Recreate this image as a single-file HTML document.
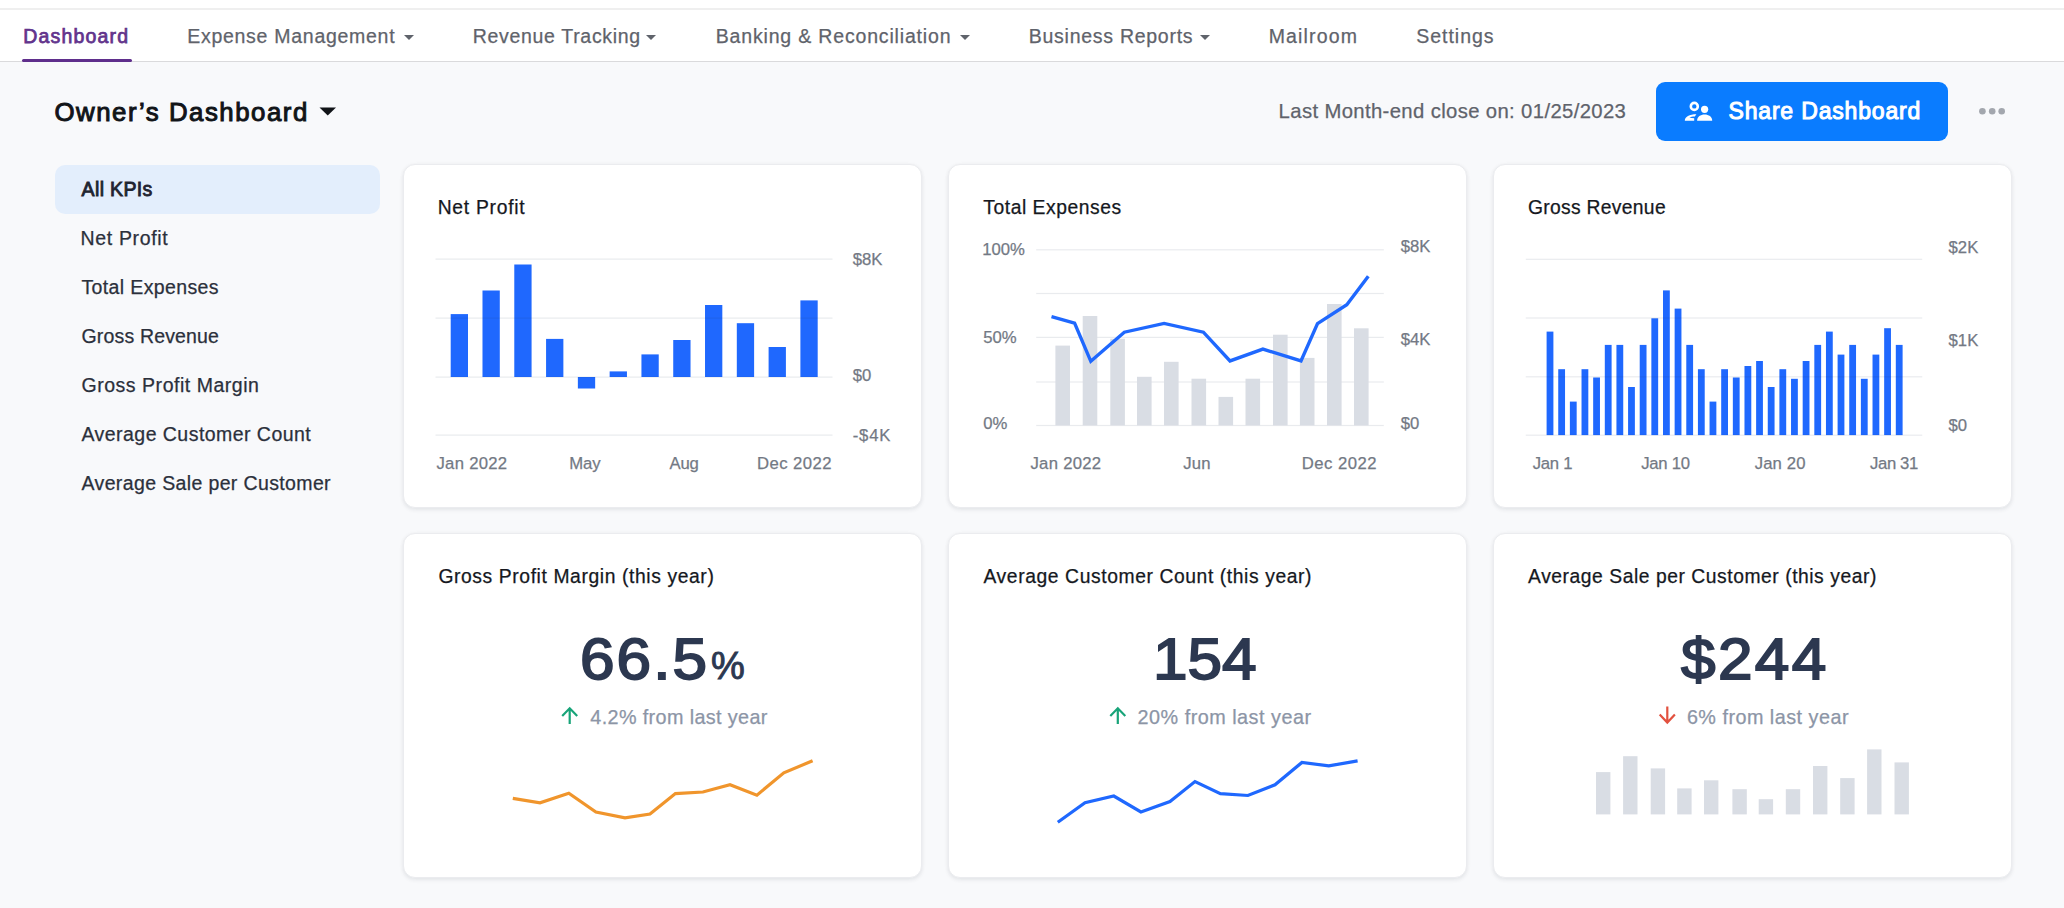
<!DOCTYPE html>
<html lang="en"><head><meta charset="utf-8"><title>Owner’s Dashboard</title>
<style>
*{margin:0;padding:0;box-sizing:border-box}
html,body{width:2064px;height:908px;overflow:hidden;background:#f8f9fb;font-family:"Liberation Sans", Arial, sans-serif}
body{position:relative}
ul{list-style:none}
a{text-decoration:none;color:inherit}
button{border:0;background:none;font:inherit;cursor:pointer}
h1,h2,p{font-weight:inherit;font-size:inherit}
.t{position:absolute;white-space:nowrap;-webkit-text-stroke:0.25px currentColor}
.med{-webkit-text-stroke:0.75px currentColor}
.abs{position:absolute}
.topnav{position:absolute;left:0;top:0;width:2064px;height:62px;background:#fff}
.navtopline{position:absolute;left:0;top:8px;width:2064px;height:2px;background:#efefef}
.navline{position:absolute;left:0;top:60.6px;width:2064px;height:1.7px;background:#dadadc}
.uline{position:absolute;left:22px;top:59.2px;width:110px;height:3.2px;background:#5f2e8c;border-radius:1.5px}
.caret{position:absolute;top:35px;width:0;height:0;border-left:5.5px solid transparent;border-right:5.5px solid transparent;border-top:5.5px solid #5f636b}
.pagehead{position:absolute;left:0;top:0;width:0;height:0}
.btn{position:absolute;left:1656px;top:82px;width:292px;height:58.5px;background:#0a7cff;border-radius:9px}
.more{position:absolute;left:1975px;top:104px;width:34px;height:15px}
.more svg{display:block;fill:#a3a7ae}
.side{position:absolute;left:0;top:0;width:0;height:0}
.sel{position:absolute;left:54.8px;top:164.8px;width:325.4px;height:48.9px;background:#e3eefc;border-radius:10px}
.grid{position:absolute;left:0;top:0;width:0;height:0}
.card{position:absolute;width:522px;height:348px}
.cardbg{position:absolute;width:519px;height:344.3px;background:#fff;border:1px solid #ebecef;border-radius:12px;box-shadow:0 2px 4px rgba(20,25,40,0.075),0 0 4px rgba(20,25,40,0.03)}
.chart{position:absolute;left:0;top:0;overflow:visible}
</style></head>
<body>
<nav class="topnav" aria-label="Main">
<div class="navtopline"></div><div class="navline"></div>
<a class="tab active" href="#"><span class="t med" style="left:23.20px;top:27px;font-size:19.5px;line-height:19.5px;color:#62348c;letter-spacing:1.181px;">Dashboard</span><i class="uline"></i></a>
<a class="tab" href="#"><span class="t" style="left:187.20px;top:27px;font-size:19.5px;line-height:19.5px;color:#5f636b;letter-spacing:0.723px;">Expense Management</span><i class="caret" style="left:403.5px"></i></a>
<a class="tab" href="#"><span class="t" style="left:472.70px;top:27px;font-size:19.5px;line-height:19.5px;color:#5f636b;letter-spacing:0.688px;">Revenue Tracking</span><i class="caret" style="left:645.5px"></i></a>
<a class="tab" href="#"><span class="t" style="left:715.70px;top:27px;font-size:19.5px;line-height:19.5px;color:#5f636b;letter-spacing:0.832px;">Banking &amp; Reconciliation</span><i class="caret" style="left:959.5px"></i></a>
<a class="tab" href="#"><span class="t" style="left:1028.80px;top:27px;font-size:19.5px;line-height:19.5px;color:#5f636b;letter-spacing:0.729px;">Business Reports</span><i class="caret" style="left:1199.5px"></i></a>
<a class="tab" href="#"><span class="t" style="left:1268.70px;top:27px;font-size:19.5px;line-height:19.5px;color:#5f636b;letter-spacing:1.152px;">Mailroom</span></a>
<a class="tab" href="#"><span class="t" style="left:1416.20px;top:27px;font-size:19.5px;line-height:19.5px;color:#5f636b;letter-spacing:0.984px;">Settings</span></a>
</nav>
<header class="pagehead">
<h1 class="title"><span class="t" style="left:54.50px;top:100px;font-size:25.8px;line-height:25.8px;color:#111418;-webkit-text-stroke:1.0px #111418;letter-spacing:1.517px;">Owner’s Dashboard</span><svg class="abs" style="left:319px;top:107px" width="18" height="9" aria-hidden="true"><path d="M0.5 0.5 H17 L8.75 8.5 Z" fill="#111418"/></svg></h1>
<p class="t" style="left:1278.60px;top:101px;font-size:20.3px;line-height:20.3px;color:#5f636b;letter-spacing:0.365px;">Last Month-end close on: 01/25/2023</p>
<button class="btn" type="button">
<svg class="abs" style="left:24px;top:16px" width="36" height="28" viewBox="1680 98 36 28" aria-hidden="true">
<circle cx="1694.3" cy="106.4" r="3.5" fill="none" stroke="#fff" stroke-width="2.6"/>
<circle cx="1704.6" cy="109.3" r="3.6" fill="#fff"/>
<path d="M1697.1 120.8 C1697.1 116.6 1700.6 114.5 1704.6 114.5 C1708.7 114.5 1712.2 116.6 1712.2 120.8 Z" fill="#fff"/>
<path d="M1684.8 120.8 C1684.8 116.6 1689.4 114.2 1696.4 114.2 L1694.8 116.5 C1692.4 116.6 1690.6 116.9 1689.4 117.7 L1694.2 118.2 L1694.2 120.8 Z" fill="#fff"/>
</svg>
<span class="t" style="left:72.50px;top:18px;font-size:23px;line-height:23px;color:#ffffff;-webkit-text-stroke:1.0px #ffffff;letter-spacing:0.822px;">Share Dashboard</span>
</button>
<button class="more" type="button" aria-label="More"><svg width="34" height="15" aria-hidden="true"><circle cx="7.4" cy="7.3" r="3.3"/><circle cx="17.2" cy="7.3" r="3.3"/><circle cx="26.7" cy="7.3" r="3.3"/></svg></button>
</header>
<aside class="side"><ul>
<li class="active"><i class="sel"></i><span class="t" style="left:81.62px;top:180px;font-size:19.5px;line-height:19.5px;color:#1f2430;-webkit-text-stroke:0.85px #1f2430;letter-spacing:0.347px;">All KPIs</span></li>
<li><span class="t" style="left:80.50px;top:229px;font-size:19.5px;line-height:19.5px;color:#2b303b;letter-spacing:0.660px;">Net Profit</span></li>
<li><span class="t" style="left:81.50px;top:278px;font-size:19.5px;line-height:19.5px;color:#2b303b;letter-spacing:0.362px;">Total Expenses</span></li>
<li><span class="t" style="left:81.50px;top:327px;font-size:19.5px;line-height:19.5px;color:#2b303b;letter-spacing:0.164px;">Gross Revenue</span></li>
<li><span class="t" style="left:81.50px;top:376px;font-size:19.5px;line-height:19.5px;color:#2b303b;letter-spacing:0.527px;">Gross Profit Margin</span></li>
<li><span class="t" style="left:81.50px;top:425px;font-size:19.5px;line-height:19.5px;color:#2b303b;letter-spacing:0.455px;">Average Customer Count</span></li>
<li><span class="t" style="left:81.50px;top:474px;font-size:19.5px;line-height:19.5px;color:#2b303b;letter-spacing:0.368px;">Average Sale per Customer</span></li>
</ul></aside>
<main class="grid">
<section class="card" style="left:403px;top:164px" aria-label="Net Profit">
<div class="cardbg" style="left:0.0px;top:0.0px"></div>
<h2><span class="t" style="left:34.70px;top:34px;font-size:19.3px;line-height:19.3px;color:#15181e;letter-spacing:0.733px;">Net Profit</span></h2>
<svg class="chart" width="522" height="348" viewBox="403 164 522 348" aria-hidden="true"><g fill="#1f68fe"><rect x="450.70" y="314.1" width="17.3" height="62.90"/><rect x="482.49" y="290.5" width="17.3" height="86.50"/><rect x="514.28" y="264.5" width="17.3" height="112.50"/><rect x="546.07" y="338.9" width="17.3" height="38.10"/><rect x="577.86" y="377" width="17.3" height="11.5"/><rect x="609.65" y="371.4" width="17.3" height="5.60"/><rect x="641.44" y="354.4" width="17.3" height="22.60"/><rect x="673.23" y="340" width="17.3" height="37.00"/><rect x="705.02" y="305" width="17.3" height="72.00"/><rect x="736.81" y="323.2" width="17.3" height="53.80"/><rect x="768.60" y="347" width="17.3" height="30.00"/><rect x="800.39" y="300.4" width="17.3" height="76.60"/></g>
<g fill="rgba(40,55,90,0.10)"><rect x="435.5" y="258.50" width="397" height="1.2"/><rect x="435.5" y="317.50" width="397" height="1.2"/><rect x="435.5" y="376.50" width="397" height="1.2"/><rect x="435.5" y="434.50" width="397" height="1.2"/></g></svg>
<span class="t" style="left:449.80px;top:88px;font-size:16.7px;line-height:16.7px;color:#737984;">$8K</span>
<span class="t" style="left:449.80px;top:204px;font-size:16.7px;line-height:16.7px;color:#737984;">$0</span>
<span class="t" style="left:449.80px;top:264px;font-size:16.7px;line-height:16.7px;color:#737984;letter-spacing:0.760px;">-$4K</span>
<span class="t" style="left:33.50px;top:292px;font-size:16.7px;line-height:16.7px;color:#737984;letter-spacing:0.274px;">Jan 2022</span>
<span class="t" style="left:166.20px;top:292px;font-size:16.7px;line-height:16.7px;color:#737984;letter-spacing:-0.091px;">May</span>
<span class="t" style="left:266.50px;top:292px;font-size:16.7px;line-height:16.7px;color:#737984;letter-spacing:-0.156px;">Aug</span>
<span class="t" style="left:354.00px;top:292px;font-size:16.7px;line-height:16.7px;color:#737984;letter-spacing:0.449px;">Dec 2022</span>
</section>
<section class="card" style="left:947px;top:164px" aria-label="Total Expenses">
<div class="cardbg" style="left:0.8px;top:0.0px"></div>
<h2><span class="t" style="left:36.30px;top:34px;font-size:19.3px;line-height:19.3px;color:#15181e;letter-spacing:0.537px;">Total Expenses</span></h2>
<svg class="chart" width="522" height="348" viewBox="947 164 522 348" aria-hidden="true"><g fill="rgba(40,55,90,0.10)"><rect x="1036.2" y="249.20" width="347.6" height="1.2"/><rect x="1036.2" y="292.90" width="347.6" height="1.2"/><rect x="1036.2" y="336.80" width="347.6" height="1.2"/><rect x="1036.2" y="381.40" width="347.6" height="1.2"/><rect x="1036.2" y="424.90" width="347.6" height="1.2"/></g>
<g fill="#d9dde4"><rect x="1055.4" y="345.6" width="14.6" height="79.80"/><rect x="1082.7" y="316" width="14.6" height="109.40"/><rect x="1110.3" y="338.7" width="14.6" height="86.70"/><rect x="1137" y="376.8" width="14.6" height="48.60"/><rect x="1164" y="361.8" width="14.6" height="63.60"/><rect x="1191.5" y="378.7" width="14.6" height="46.70"/><rect x="1218.5" y="396.9" width="14.6" height="28.50"/><rect x="1245.5" y="378.7" width="14.6" height="46.70"/><rect x="1273" y="334.7" width="14.6" height="90.70"/><rect x="1299.9" y="357.9" width="14.6" height="67.50"/><rect x="1327" y="304" width="14.6" height="121.40"/><rect x="1354" y="328.3" width="14.6" height="97.10"/></g>
<polyline points="1051.5,316.7 1074.6,323.2 1090.8,361.3 1124.3,332.2 1164.1,323.4 1203.4,332.2 1230,360.9 1262.9,349.1 1301,360.9 1317.5,323.6 1346.8,304.7 1368.3,276.2" fill="none" stroke="#1f68fe" stroke-width="3.4"/></svg>
<span class="t" style="left:35.20px;top:78px;font-size:16.7px;line-height:16.7px;color:#737984;">100%</span>
<span class="t" style="left:36.20px;top:166px;font-size:16.7px;line-height:16.7px;color:#737984;">50%</span>
<span class="t" style="left:36.20px;top:252px;font-size:16.7px;line-height:16.7px;color:#737984;">0%</span>
<span class="t" style="left:453.80px;top:75px;font-size:16.7px;line-height:16.7px;color:#737984;">$8K</span>
<span class="t" style="left:453.80px;top:168px;font-size:16.7px;line-height:16.7px;color:#737984;">$4K</span>
<span class="t" style="left:453.80px;top:252px;font-size:16.7px;line-height:16.7px;color:#737984;">$0</span>
<span class="t" style="left:83.50px;top:292px;font-size:16.7px;line-height:16.7px;color:#737984;letter-spacing:0.274px;">Jan 2022</span>
<span class="t" style="left:236.30px;top:292px;font-size:16.7px;line-height:16.7px;color:#737984;letter-spacing:0.188px;">Jun</span>
<span class="t" style="left:354.70px;top:292px;font-size:16.7px;line-height:16.7px;color:#737984;letter-spacing:0.478px;">Dec 2022</span>
</section>
<section class="card" style="left:1492px;top:164px" aria-label="Gross Revenue">
<div class="cardbg" style="left:0.7px;top:0.0px"></div>
<h2><span class="t" style="left:35.90px;top:34px;font-size:19.3px;line-height:19.3px;color:#15181e;letter-spacing:0.313px;">Gross Revenue</span></h2>
<svg class="chart" width="522" height="348" viewBox="1492 164 522 348" aria-hidden="true"><g fill="#1f68fe"><rect x="1546.60" y="331.6" width="6.8" height="103.50"/><rect x="1558.24" y="369.2" width="6.8" height="65.90"/><rect x="1569.88" y="401.6" width="6.8" height="33.50"/><rect x="1581.52" y="369.2" width="6.8" height="65.90"/><rect x="1593.16" y="377.5" width="6.8" height="57.60"/><rect x="1604.80" y="344.9" width="6.8" height="90.20"/><rect x="1616.44" y="344.9" width="6.8" height="90.20"/><rect x="1628.08" y="387" width="6.8" height="48.10"/><rect x="1639.72" y="344.9" width="6.8" height="90.20"/><rect x="1651.36" y="318.3" width="6.8" height="116.80"/><rect x="1663.00" y="290.4" width="6.8" height="144.70"/><rect x="1674.64" y="308.6" width="6.8" height="126.50"/><rect x="1686.28" y="344.9" width="6.8" height="90.20"/><rect x="1697.92" y="369.2" width="6.8" height="65.90"/><rect x="1709.56" y="401.6" width="6.8" height="33.50"/><rect x="1721.20" y="369.2" width="6.8" height="65.90"/><rect x="1732.84" y="377.5" width="6.8" height="57.60"/><rect x="1744.48" y="366" width="6.8" height="69.10"/><rect x="1756.12" y="361" width="6.8" height="74.10"/><rect x="1767.76" y="387" width="6.8" height="48.10"/><rect x="1779.40" y="369.2" width="6.8" height="65.90"/><rect x="1791.04" y="378.8" width="6.8" height="56.30"/><rect x="1802.68" y="361" width="6.8" height="74.10"/><rect x="1814.32" y="344.9" width="6.8" height="90.20"/><rect x="1825.96" y="331.6" width="6.8" height="103.50"/><rect x="1837.60" y="354.6" width="6.8" height="80.50"/><rect x="1849.24" y="344.9" width="6.8" height="90.20"/><rect x="1860.88" y="378.8" width="6.8" height="56.30"/><rect x="1872.52" y="354.6" width="6.8" height="80.50"/><rect x="1884.16" y="328.2" width="6.8" height="106.90"/><rect x="1895.80" y="344.9" width="6.8" height="90.20"/></g>
<g fill="rgba(40,55,90,0.10)"><rect x="1525.8" y="258.70" width="396.4" height="1.2"/><rect x="1525.8" y="317.40" width="396.4" height="1.2"/><rect x="1525.8" y="376.20" width="396.4" height="1.2"/><rect x="1525.8" y="434.60" width="396.4" height="1.2"/></g></svg>
<span class="t" style="left:456.60px;top:76px;font-size:16.7px;line-height:16.7px;color:#737984;">$2K</span>
<span class="t" style="left:456.60px;top:169px;font-size:16.7px;line-height:16.7px;color:#737984;">$1K</span>
<span class="t" style="left:456.60px;top:254px;font-size:16.7px;line-height:16.7px;color:#737984;">$0</span>
<span class="t" style="left:40.80px;top:292px;font-size:16.7px;line-height:16.7px;color:#737984;letter-spacing:-0.285px;">Jan 1</span>
<span class="t" style="left:149.30px;top:292px;font-size:16.7px;line-height:16.7px;color:#737984;letter-spacing:-0.284px;">Jan 10</span>
<span class="t" style="left:262.70px;top:292px;font-size:16.7px;line-height:16.7px;color:#737984;letter-spacing:0.156px;">Jan 20</span>
<span class="t" style="left:378.00px;top:292px;font-size:16.7px;line-height:16.7px;color:#737984;letter-spacing:-0.364px;">Jan 31</span>
</section>
<section class="card" style="left:403px;top:533px" aria-label="Gross Profit Margin">
<div class="cardbg" style="left:0.0px;top:0.4px"></div>
<h2><span class="t" style="left:35.40px;top:34px;font-size:19.3px;line-height:19.3px;color:#15181e;letter-spacing:0.609px;">Gross Profit Margin (this year)</span></h2>
<svg class="chart" width="522" height="348" viewBox="403 533 522 348" aria-hidden="true"><path d="M569.7 724 V708.5 M562.2 715.9 L569.7 708.3 L577.2 715.9" fill="none" stroke="#18a479" stroke-width="2.2"/>
<polyline points="512.8,798.4 540.0,802.8 568.8,793.2 595.9,812 625.0,817.9 650.0,814 675.4,793.6 702.9,792 730.0,784.8 756.9,795.2 783.8,772.8 812.6,760.8" fill="none" stroke="#f0952c" stroke-width="3.2"/></svg>
<p class="kpi"><span class="t" style="left:177.30px;top:98px;font-size:57px;line-height:57px;color:#2c3850;-webkit-text-stroke:1.8px #2c3850;letter-spacing:1.850px;transform:scaleX(1.09);transform-origin:0 0;">66.5</span><span class="t" style="left:307.95px;top:114px;font-size:38px;line-height:38px;color:#2c3850;-webkit-text-stroke:0.9px #2c3850;">%</span></p>
<p class="t" style="left:187.30px;top:175px;font-size:19.8px;line-height:19.8px;color:#8c95a6;letter-spacing:0.371px;">4.2% from last year</p>
</section>
<section class="card" style="left:947px;top:533px" aria-label="Average Customer Count">
<div class="cardbg" style="left:0.8px;top:0.4px"></div>
<h2><span class="t" style="left:36.50px;top:34px;font-size:19.3px;line-height:19.3px;color:#15181e;letter-spacing:0.598px;">Average Customer Count (this year)</span></h2>
<svg class="chart" width="522" height="348" viewBox="947 533 522 348" aria-hidden="true"><path d="M1117.8 724 V708.5 M1110.3 715.9 L1117.8 708.3 L1125.3 715.9" fill="none" stroke="#18a479" stroke-width="2.2"/>
<polyline points="1057.8,822.3 1085.0,802.8 1113.8,796 1140.9,812 1170.0,801.6 1195.0,781.6 1220.4,793.6 1247.9,795.5 1275.0,784.8 1301.9,762.4 1328.8,765.9 1357.6,760.8" fill="none" stroke="#1f68fe" stroke-width="3.2"/></svg>
<p class="kpi"><span class="t" style="left:206.12px;top:98px;font-size:57px;line-height:57px;color:#2c3850;-webkit-text-stroke:1.8px #2c3850;transform:scaleX(1.09);transform-origin:0 0;">154</span></p>
<p class="t" style="left:190.60px;top:175px;font-size:19.8px;line-height:19.8px;color:#8c95a6;letter-spacing:0.499px;">20% from last year</p>
</section>
<section class="card" style="left:1492px;top:533px" aria-label="Average Sale per Customer">
<div class="cardbg" style="left:0.7px;top:0.4px"></div>
<h2><span class="t" style="left:36.10px;top:34px;font-size:19.3px;line-height:19.3px;color:#15181e;letter-spacing:0.544px;">Average Sale per Customer (this year)</span></h2>
<svg class="chart" width="522" height="348" viewBox="1492 533 522 348" aria-hidden="true"><path d="M1667.3000000000002 706.6 V722.3 M1659.7 714.6 L1667.3000000000002 722.6 L1674.9 714.6" fill="none" stroke="#e2513f" stroke-width="2.2"/>
<g fill="#d9dde4"><rect x="1596" y="772.1" width="14.4" height="42.30"/><rect x="1623.1" y="756.2" width="14.4" height="58.20"/><rect x="1650.7" y="768.4" width="14.4" height="46.00"/><rect x="1677.2" y="788.4" width="14.4" height="26.00"/><rect x="1704" y="780.3" width="14.4" height="34.10"/><rect x="1732.4" y="789.2" width="14.4" height="25.20"/><rect x="1758.7" y="799.2" width="14.4" height="15.20"/><rect x="1785.8" y="789.2" width="14.4" height="25.20"/><rect x="1813" y="766" width="14.4" height="48.40"/><rect x="1840.2" y="778.1" width="14.4" height="36.30"/><rect x="1867.1" y="749.4" width="14.4" height="65.00"/><rect x="1894.5" y="762.4" width="14.4" height="52.00"/></g></svg>
<p class="kpi"><span class="t" style="left:188.68px;top:98px;font-size:57px;line-height:57px;color:#2c3850;-webkit-text-stroke:1.8px #2c3850;letter-spacing:2.137px;transform:scaleX(1.09);transform-origin:0 0;">$244</span></p>
<p class="t" style="left:194.90px;top:175px;font-size:19.8px;line-height:19.8px;color:#8c95a6;letter-spacing:0.480px;">6% from last year</p>
</section>
</main>
</body></html>
